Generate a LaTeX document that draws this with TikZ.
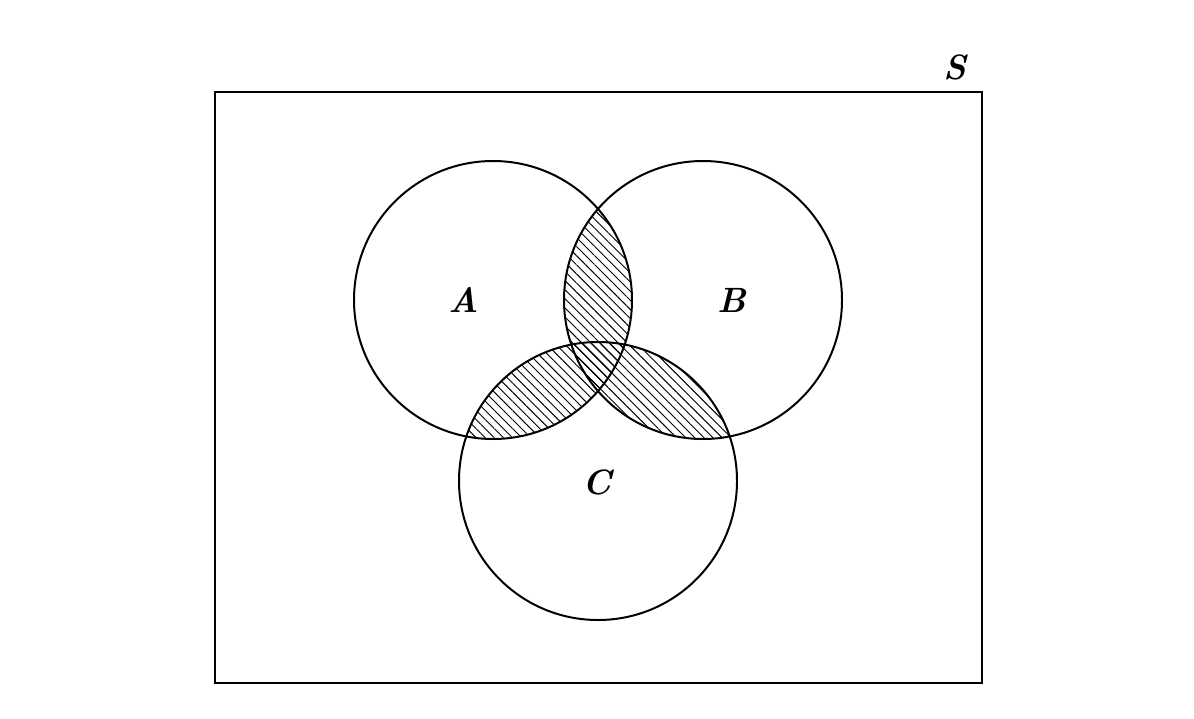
\documentclass[tikz,border=0pt]{standalone}
\usetikzlibrary{patterns.meta}
\begin{document}
\begin{tikzpicture}[x=0.03cm,y=-0.03cm,
  circ/.style={draw,line width=1.7pt},
  hatch/.style={pattern={Lines[angle=-45,distance=5.5pt,line width=0.8pt]}},
  lbl/.style={font=\fontsize{30}{36}\selectfont\bfseries\itshape}]
\useasboundingbox (0,0) rectangle (1194,718);
\def\R{139}
\coordinate (ca) at (493,300);
\coordinate (cb) at (703,300);
\coordinate (cc) at (598,481);
\begin{scope}\clip (ca) circle (\R); \fill[hatch] (cb) circle (\R);\end{scope}
\begin{scope}\clip (ca) circle (\R); \fill[hatch] (cc) circle (\R);\end{scope}
\begin{scope}\clip (cb) circle (\R); \fill[hatch] (cc) circle (\R);\end{scope}
\draw[line width=1.7pt] (215,92) rectangle (982,683);
\draw[circ] (ca) circle (\R);
\draw[circ] (cb) circle (\R);
\draw[circ] (cc) circle (\R);
\node[lbl] (S) at (955,67) {S};
\node[lbl] (A) at (464,300) {A};
\node[lbl] (B) at (732,300) {B};
\node[lbl] (C) at (597,482) {C};
\end{tikzpicture}
\end{document}
